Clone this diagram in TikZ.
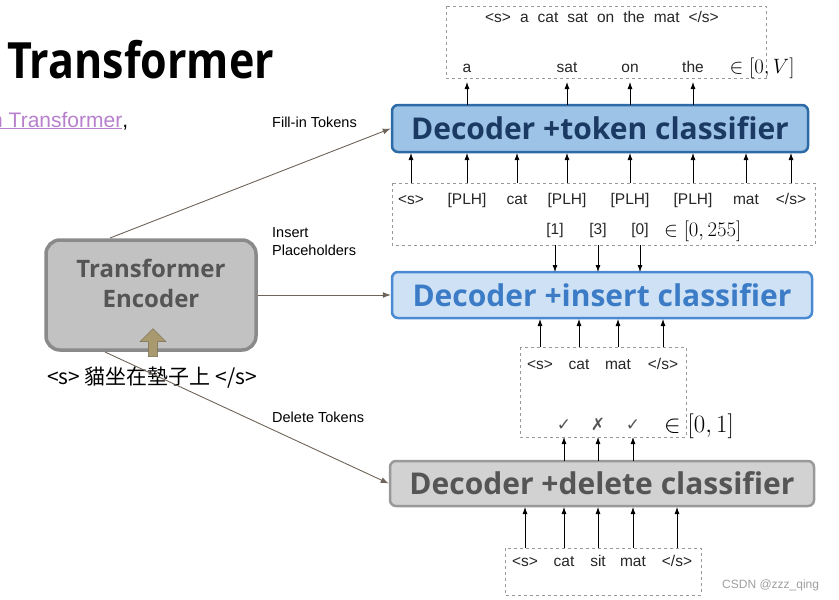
\documentclass[tikz,border=0pt]{standalone}
\usepackage{fontspec}
\setmainfont{Liberation Sans}
\newfontfamily\osans{Open Sans}
\newfontfamily\cjk{Noto Sans CJK SC}
\newfontfamily\djv{DejaVu Sans}
\usetikzlibrary{arrows.meta,shapes.arrows}
\definecolor{tokfill}{HTML}{9DC3E6}\definecolor{tokdraw}{HTML}{2E6AA6}\definecolor{toktxt}{HTML}{1B3A63}
\definecolor{insfill}{HTML}{CFE2F5}\definecolor{insdraw}{HTML}{4A8AD2}\definecolor{instxt}{HTML}{3C7CC6}
\definecolor{delfill}{HTML}{D2D2D2}\definecolor{deldraw}{HTML}{999999}\definecolor{deltxt}{HTML}{555555}
\definecolor{encfill}{HTML}{C2C2C2}\definecolor{encdraw}{HTML}{8A8A8A}
\definecolor{link}{HTML}{B77FCC}\definecolor{tan}{HTML}{A8996E}\definecolor{conn}{HTML}{6E6458}
\begin{document}
\begin{tikzpicture}[x=1pt,y=-1pt,
  dec/.style={rounded corners=6pt,line width=2.5pt,font=\osans\bfseries\fontsize{30}{32}\selectfont,inner sep=0pt},
  tok/.style={font=\fontsize{15.5}{17}\selectfont,text=black!85,inner sep=1pt,anchor=base},
  dbox/.style={draw=gray!80,dashed,line width=0.8pt},
  up/.style={-{Latex[length=7pt,width=5pt]},line width=0.8pt},
  conn/.style={-{Latex[length=8pt,width=6pt]},draw=conn,line width=0.9pt},
  lab/.style={font=\fontsize{14.5}{18}\selectfont,align=left,inner sep=0pt}]
\useasboundingbox (0,0) rectangle (839,600);
% title
\node[anchor=west,inner sep=0pt,font=\osans\bfseries\fontsize{50}{52}\selectfont,xscale=0.86] (title) at (7,60) {Transformer};
\node[anchor=base west,inner sep=0pt,font=\fontsize{21}{22}\selectfont] (lnk) at (-9,127) {\textcolor{link}{\underline{n Transformer}},};
% encoder
\node[draw=encdraw,fill=encfill,rounded corners=14pt,line width=3.5pt,minimum width=210pt,minimum height=110pt,
  font=\osans\bfseries\fontsize{24}{30}\selectfont,text=deltxt,align=center] (enc) at (151,295) {Transformer\\Encoder\\[-6pt]\mbox{}};
\node[single arrow,shape border rotate=90,fill=tan,draw=tan!70!black,minimum height=28pt,minimum width=26pt,single arrow head extend=4pt,inner sep=2pt] (tarr) at (153,345) {};
\node[font=\cjk\fontsize{21}{22}\selectfont,inner sep=0pt] (src) at (152,378) {<s> 貓坐在墊子上 </s>};
% decoders
\node[dec,draw=tokdraw,fill=tokfill,text=toktxt,minimum width=416pt,minimum height=47pt] (tokd) at (600,128.5) {Decoder +token classifier};
\node[dec,draw=insdraw,fill=insfill,text=instxt,minimum width=420pt,minimum height=46pt] (insd) at (602,295) {Decoder +insert classifier};
\node[dec,draw=deldraw,fill=delfill,text=deltxt,minimum width=424pt,minimum height=45pt] (deld) at (602,483.5) {Decoder +delete classifier};
% dashed boxes
\draw[dbox] (446,6) rectangle (766,78);
\draw[dbox] (392,183) rectangle (815,245);
\draw[dbox] (520,347) rectangle (686,437);
\draw[dbox] (505,548) rectangle (701,595);
% top outputs
\node[tok] (top) at (602,22) {<s>\hspace{9pt}a\hspace{9pt}cat\hspace{9pt}sat\hspace{9pt}on\hspace{9pt}the\hspace{9pt}mat\hspace{9pt}</s>};
\foreach \x/\t/\n in {467/a/oa,567/sat/osat,630/on/oon,693/the/othe}{
  \node[tok] (\n) at (\x,72) {\t};
  \coordinate (c\n) at (\x,82);
  \coordinate (b\n) at (\x,105);
  \draw[up] (b\n) -- (c\n);}
\node[anchor=base,inner sep=0pt,font=\fontsize{22}{24}\selectfont] (rv) at (762,73) {$\in[0,V]$};
% middle tokens
\foreach \x/\t/\n in {411/{<s>}/m1,467/{[PLH]}/m2,517/cat/m3,567/{[PLH]}/m4,630/{[PLH]}/m5,693/{[PLH]}/m6,746/mat/m7,791/{</s>}/m8}{
  \node[tok] (\n) at (\x,204) {\t};
  \coordinate (t\n) at (\x,183);
  \coordinate (h\n) at (\x,153);
  \draw[up] (t\n) -- (h\n);}
\foreach \x/\t/\n in {555/{[1]}/p1,598/{[3]}/p2,640/{[0]}/p3}{
  \node[tok] (\n) at (\x,234) {\t};
  \coordinate (s\n) at (\x,245);
  \coordinate (e\n) at (\x,272);
  \draw[up] (s\n) -- (e\n);}
\node[anchor=base west,inner sep=0pt,font=\fontsize{21}{22}\selectfont] (r255) at (664,236) {$\in[0,255]$};
% third box
\foreach \x/\t/\n in {540/{<s>}/q1,579/cat/q2,618/mat/q3,663/{</s>}/q4}{
  \node[tok] (\n) at (\x,369) {\t};
  \coordinate (s\n) at (\x,347);
  \coordinate (e\n) at (\x,319);
  \draw[up] (s\n) -- (e\n);}
\foreach \x/\t/\n in {564/✓/k1,598/✗/k2,633/✓/k3}{
  \node[tok,font=\djv\bfseries\fontsize{17}{18}\selectfont,text=deltxt] (\n) at (\x,430) {\t};
  \coordinate (s\n) at (\x,461);
  \coordinate (e\n) at (\x,437);
  \draw[up] (s\n) -- (e\n);}
\node[anchor=base west,inner sep=0pt,font=\fontsize{26}{28}\selectfont] (r01) at (664,432) {$\in[0,1]$};
% bottom
\foreach \x/\t/\n in {525/{<s>}/b1,564/cat/b2,598/sit/b3,633/mat/b4,677/{</s>}/b5}{
  \node[tok] (\n) at (\x,566) {\t};
  \coordinate (s\n) at (\x,548);
  \coordinate (e\n) at (\x,507);
  \draw[up] (s\n) -- (e\n);}
\node[anchor=base west,inner sep=0pt,text=gray!75,font=\fontsize{12}{14}\selectfont] (csdn) at (722,588) {CSDN @zzz\_qing};
% connectors
\coordinate (e1) at (110,238);\coordinate (e3) at (105,352);
\draw[conn] (e1) -- (tokd.west);
\draw[conn] (enc.east |- insd.west) -- (insd.west);
\draw[conn] (e3) -- (deld.west);
\node[lab,anchor=base west] (l1) at (272,127) {Fill-in Tokens};
\node[lab,anchor=base west] (l2) at (272,255) {Insert\\Placeholders};
\node[lab,anchor=base west] (l3) at (272,422) {Delete Tokens};
\end{tikzpicture}
\end{document}
